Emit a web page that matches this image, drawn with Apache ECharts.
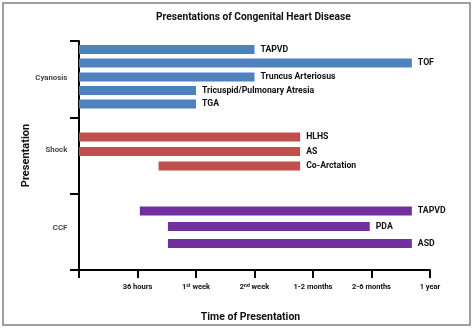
<!DOCTYPE html>
<html><head><meta charset="utf-8">
<script src="https://cdn.jsdelivr.net/npm/echarts@6/dist/echarts.min.js"></script>
<style>html,body{margin:0;padding:0;background:#fff}#c{width:474px;height:329px}</style>
</head><body><div id="c"></div>
<script>
// Data
const xTickLabels = ['', '36 hours', '1{sup|st} week', '2{sup|nd} week', '1-2 months', '2-6 months', '1 year'];
const groups = ['Cyanosis', 'Shock', 'CCF'];
const groupLabelY = [2.52, 1.57, 0.55];
const barNames = ['TAPVD', 'TOF', 'Truncus Arteriosus', 'Tricuspid/Pulmonary Atresia', 'TGA',
                  'HLHS', 'AS', 'Co-Arctation',
                  'TAPVD', 'PDA', 'ASD'];
const barGroup = [0, 0, 0, 0, 0, 1, 1, 1, 2, 2, 2];
const barStart = [0, 0, 0, 0, 0, 0, 0, 1.36, 1.04, 1.52, 1.52];
const barEnd   = [3.0, 5.69, 3.0, 2.0, 2.0, 3.78, 3.78, 3.78, 5.69, 4.97, 5.69];
const barRow   = [2.89, 2.713, 2.53, 2.35, 2.176, 1.743, 1.553, 1.363, 0.773, 0.57, 0.347];
const groupColors = ['#4F81BD', '#C0504D', '#7030A0'];

const FONT = 'Roboto';
const chart = echarts.init(document.getElementById('c'), null, {renderer: 'canvas'});
const barData = barNames.map((n, i) => [barStart[i], barEnd[i], barRow[i], barGroup[i], n]);

chart.setOption({
  animation: false,
  title: {
    text: 'Presentations of Congenital Heart Disease',
    left: 151, top: 7,
    textStyle: {fontFamily: FONT, fontWeight: 'bold', fontSize: 10.2, color: '#111'}
  },
  graphic: [{
    type: 'rect', shape: {x: 3, y: 3, width: 467, height: 322},
    style: {fill: 'none', stroke: '#808080', lineWidth: 1.5}, silent: true
  }],
  grid: {left: 79, right: 44, top: 41, bottom: 59},
  xAxis: {
    type: 'value', min: 0, max: 6, interval: 1,
    name: 'Time of Presentation', nameLocation: 'middle', nameGap: 42,
    nameTextStyle: {fontFamily: FONT, fontWeight: 'bold', fontSize: 10.5, color: '#111', padding: [0, 8, 0, 0]},
    axisLine: {lineStyle: {color: '#000', width: 2}},
    axisTick: {show: true, length: 8, lineStyle: {color: '#000', width: 2}},
    splitLine: {show: false},
    axisLabel: {
      margin: 13, fontFamily: FONT, fontWeight: 'bold', fontSize: 7.5, color: '#111',
      formatter: v => xTickLabels[Math.round(v)] || '',
      rich: {sup: {fontFamily: FONT, fontWeight: 'bold', fontSize: 5, verticalAlign: 'top', padding: [0, 0, 4, 0], color: '#111'}}
    }
  },
  yAxis: {
    type: 'value', min: 0, max: 3, interval: 1,
    name: 'Presentation', nameLocation: 'middle', nameGap: 47, nameRotate: 90,
    nameTextStyle: {fontFamily: FONT, fontWeight: 'bold', fontSize: 11, color: '#111'},
    axisLine: {show: true, lineStyle: {color: '#000', width: 2}},
    axisTick: {show: true, length: 9, lineStyle: {color: '#000', width: 2}},
    axisLabel: {show: false},
    splitLine: {show: false}
  },
  series: [{
    type: 'custom',
    clip: false,
    data: barData,
    encode: {x: [0, 1], y: 2},
    renderItem: function (params, api) {
      const s = api.coord([api.value(0), api.value(2)]);
      const e = api.coord([api.value(1), api.value(2)]);
      const h = 9;
      const g = api.value(3);
      return {
        type: 'group',
        children: [{
          type: 'rect',
          shape: {x: s[0], y: s[1] - h / 2, width: e[0] - s[0], height: h},
          style: {fill: groupColors[g]}
        }, {
          type: 'text',
          style: {
            x: e[0] + 6, y: e[1], text: barNames[params.dataIndex],
            textAlign: 'left', textVerticalAlign: 'middle',
            font: 'bold 8.7px ' + FONT, fill: '#111'
          }
        }]
      };
    }
  }, {
    type: 'scatter',
    clip: false,
    symbolSize: 0,
    data: groups.map((g, i) => [-0.2, groupLabelY[i], g]),
    label: {
      show: true, position: 'inside', formatter: p => p.value[2],
      align: 'right', fontFamily: FONT, fontWeight: 'bold', fontSize: 7.8, color: '#111'
    }
  }]
});
</script></body></html>
